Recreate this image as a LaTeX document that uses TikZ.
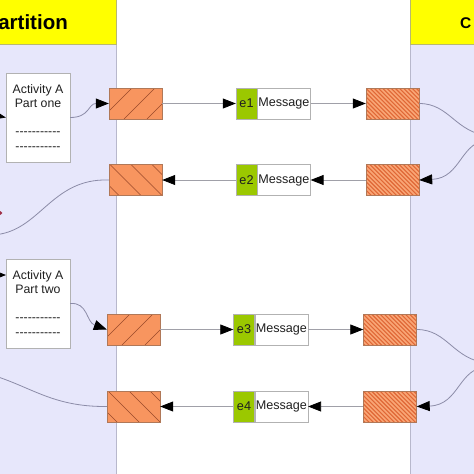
\documentclass[tikz,border=0pt]{standalone}
\usepackage{fontspec}
\setmainfont{Liberation Sans}
\usetikzlibrary{arrows.meta,calc}
\definecolor{lane}{HTML}{E7E7FB}
\definecolor{hdr}{HTML}{FFFF00}
\definecolor{hdrbd}{HTML}{B8B870}
\definecolor{lanebd}{HTML}{B8B8CC}
\definecolor{orng}{HTML}{F8955F}
\definecolor{orngln}{HTML}{9A4A2A}
\definecolor{orngbd}{HTML}{B07858}
\definecolor{orngl}{HTML}{F9A676}
\definecolor{orngd}{HTML}{E06836}
\definecolor{grn}{HTML}{9BC800}
\definecolor{wire}{HTML}{A0A0A8}
\definecolor{curvec}{HTML}{8C8CA8}
\definecolor{dotc}{HTML}{A03048}
\definecolor{txt}{HTML}{202020}
\newcommand\dashline{\mbox{-}\mbox{-}\mbox{-}\mbox{-}\mbox{-}\mbox{-}\mbox{-}\mbox{-}\mbox{-}\mbox{-}\mbox{-}}
\begin{document}
\begin{tikzpicture}[x=1pt,y=-1pt,
  font=\fontsize{12.3}{14.5}\selectfont,
  lbox/.style={draw=orngbd, fill=orng, minimum width=53pt, minimum height=31pt, inner sep=0pt},
  hatchup/.style={lbox, path picture={\foreach \o in {-8,15,38}
      \draw[orngln, line width=0.6pt] ($(path picture bounding box.south west)+(\o,0)$) -- ++(45,-45);}},
  hatchdown/.style={lbox, path picture={\foreach \o in {-21,1,22,43}
      \draw[orngln, line width=0.6pt] ($(path picture bounding box.north west)+(\o,0)$) -- ++(45,45);}},
  hatchdense/.style={lbox, fill=orngl, path picture={\foreach \o in {-34,-29.8,...,56}
      \draw[orngd, line width=1.1pt] ($(path picture bounding box.north west)+(\o,0)$) -- ++(40,40);}},
  ebox/.style={draw=gray!60, fill=grn, minimum width=21pt, minimum height=31pt, inner sep=0pt, text=txt,
      font=\fontsize{12.7}{15}\selectfont},
  mbox/.style={draw=gray!60, fill=white, minimum width=53pt, minimum height=31pt, inner sep=0pt, text=txt,
      font=\fontsize{12.6}{15}\selectfont},
  actbox/.style={draw=gray!60, fill=white, minimum width=64pt, minimum height=89pt, inner sep=0pt, align=center, text=txt},
  hdrtext/.style={font=\bfseries\fontsize{20.5}{22}\selectfont, inner sep=0pt, text=black},
  wireline/.style={draw=wire, line width=0.8pt},
  curveline/.style={draw=curvec, line width=0.8pt},
  arr/.style={-{Triangle[length=13pt,width=10pt,color=black,fill=black]}}
]
\useasboundingbox (0,0) rectangle (474,474);
\clip (0,0) rectangle (474,474);
\fill[white] (0,0) rectangle (474,474);
% lanes
\filldraw[fill=lane, draw=lanebd] (-2,44) rectangle (116,476);
\filldraw[fill=hdr, draw=hdrbd] (-2,-2) rectangle (116,44);
\filldraw[fill=lane, draw=lanebd] (410,44) rectangle (476,476);
\filldraw[fill=hdr, draw=hdrbd] (410,-2) rectangle (476,44);
\node[hdrtext, anchor=base east] (hL) at (68,29) {Partition};
\node[hdrtext, font=\bfseries\fontsize{15.5}{17}\selectfont, anchor=base west] (hR) at (460,28) {C};

% activities
\node[actbox] (A1) at (38,117.5) {Activity A\\Part one\\[13.6pt]\dashline\\[0.8pt]\dashline};
\node[actbox] (A2) at (38,303.5) {Activity A\\Part two\\[13.6pt]\dashline\\[0.8pt]\dashline};

% row 1
\node[hatchup] (L1) at (135.5,103.5) {};
\node[ebox] (e1) at (246.5,103.5) {e1};
\node[mbox, anchor=west] (m1) at (e1.east) {Message};
\node[hatchdense] (R1) at (392.5,103.5) {};
% row 2
\node[hatchdown] (L2) at (135.5,180) {};
\node[ebox] (e2) at (246.5,180) {e2};
\node[mbox, anchor=west] (m2) at (e2.east) {Message};
\node[hatchdense] (R2) at (392.5,180) {};
% row 3
\node[hatchup] (L3) at (133.5,329.5) {};
\node[ebox] (e3) at (244,329.5) {e3};
\node[mbox, anchor=west] (m3) at (e3.east) {Message};
\node[hatchdense] (R3) at (390,329.5) {};
% row 4
\node[hatchdown] (L4) at (133.5,406.5) {};
\node[ebox] (e4) at (244,406.5) {e4};
\node[mbox, anchor=west] (m4) at (e4.east) {Message};
\node[hatchdense] (R4) at (390,406.5) {};

% straight message flows
\draw[wireline, arr] (L1.east) -- (e1.west);
\draw[wireline, arr] (m1.east) -- (R1.west);
\draw[wireline, arr] (R2.west) -- (m2.east);
\draw[wireline, arr] (e2.west) -- (L2.east);
\draw[wireline, arr] (L3.east) -- (e3.west);
\draw[wireline, arr] (m3.east) -- (R3.west);
\draw[wireline, arr] (R4.west) -- (m4.east);
\draw[wireline, arr] (e4.west) -- (L4.east);

% curved flows
\coordinate (inA1) at (-16,113);
\coordinate (inA2) at (-16,275);
\coordinate (a2in) at (6,275);
\coordinate (outL2) at (-8,235);
\coordinate (outL4) at (-15,373);
\coordinate (outR1) at (490,136);
\coordinate (inR2) at (490,140);
\coordinate (outR3) at (488,363);
\coordinate (inR4) at (488,367);

\draw[curveline, arr] (inA1) -- (A1.west);
\draw[curveline, arr] (inA2) -- (a2in);
\draw[curveline, arr] (A1.east) .. controls (90,117.5) and (88,103.5) .. (L1.west);
\draw[curveline] (L2.west) .. controls (50,178) and (40,233) .. (outL2);
\draw[curveline, arr] (A2.east) .. controls (88,302) and (86,322) .. (L3.west);
\draw[curveline] (L4.west) .. controls (50,407) and (30,385) .. (outL4);
\draw[curveline] (R1.east) .. controls (450,103.5) and (455,133) .. (outR1);
\draw[curveline, arr] (inR2) .. controls (460,140) and (462,178) .. (R2.east);
\draw[curveline] (R3.east) .. controls (448,329.5) and (453,360) .. (outR3);
\draw[curveline, arr] (inR4) .. controls (458,367) and (460,405) .. (R4.east);

\fill[dotc] (0.5,213) circle (1.8);
\end{tikzpicture}
\end{document}
